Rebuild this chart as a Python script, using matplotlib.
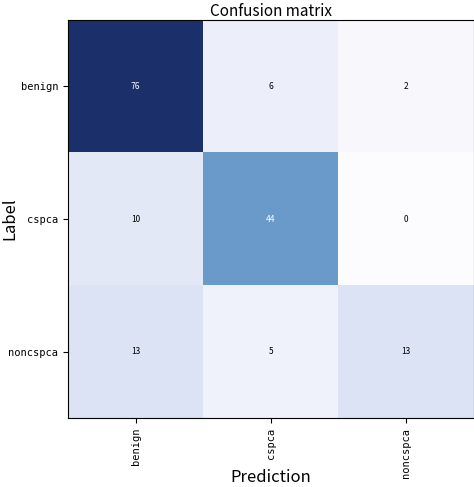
import numpy as np
import matplotlib
matplotlib.use('Agg')
from matplotlib import pyplot as plt
from matplotlib.colors import LinearSegmentedColormap

plt.rcParams['font.family'] = ['Noto Sans CJK SC', 'DejaVu Sans']

classes = ['benign', 'cspca', 'noncspca']
cm_vals = np.array([[76, 6, 2],
                    [10, 44, 0],
                    [13, 5, 13]])

cmap = LinearSegmentedColormap.from_list(
    'cm', [(0.0, '#fcfbfe'), (0.17, '#dbe3f4'), (0.58, '#6a9bca'), (1.0, '#1b2f6b')])

fig = plt.figure(figsize=(4.74, 4.87), dpi=100)
ax = fig.add_axes([68/474, 1-418/487, 406/474, 398/487])
ax.imshow(cm_vals, cmap=cmap, aspect='auto', vmin=0, vmax=cm_vals.max())
thresh = cm_vals.max() / 2.
for i in range(3):
    for j in range(3):
        ax.text(j, i, str(cm_vals[i, j]), ha='center', va='center', fontsize=6,
                color='white' if cm_vals[i, j] > thresh else 'black')
ax.set_xticks(range(3))
ax.set_xticklabels(classes, rotation=90, fontsize=7.5, family='DejaVu Sans Mono')
ax.set_yticks(range(3))
ax.set_yticklabels(classes, fontsize=7.5, family='DejaVu Sans Mono')
ax.set_title('Confusion matrix', fontsize=11, pad=3)
ax.set_xlabel('Prediction', fontsize=12)
ax.set_ylabel('Label', fontsize=12)
ax.xaxis.set_label_coords(0.5, -(478-418)/398, transform=ax.transAxes)
ax.yaxis.set_label_coords(-(68-10)/406, 0.5, transform=ax.transAxes)
ax.xaxis.label.set_va('center')
ax.yaxis.label.set_va('center')
fig.savefig('out.png')
